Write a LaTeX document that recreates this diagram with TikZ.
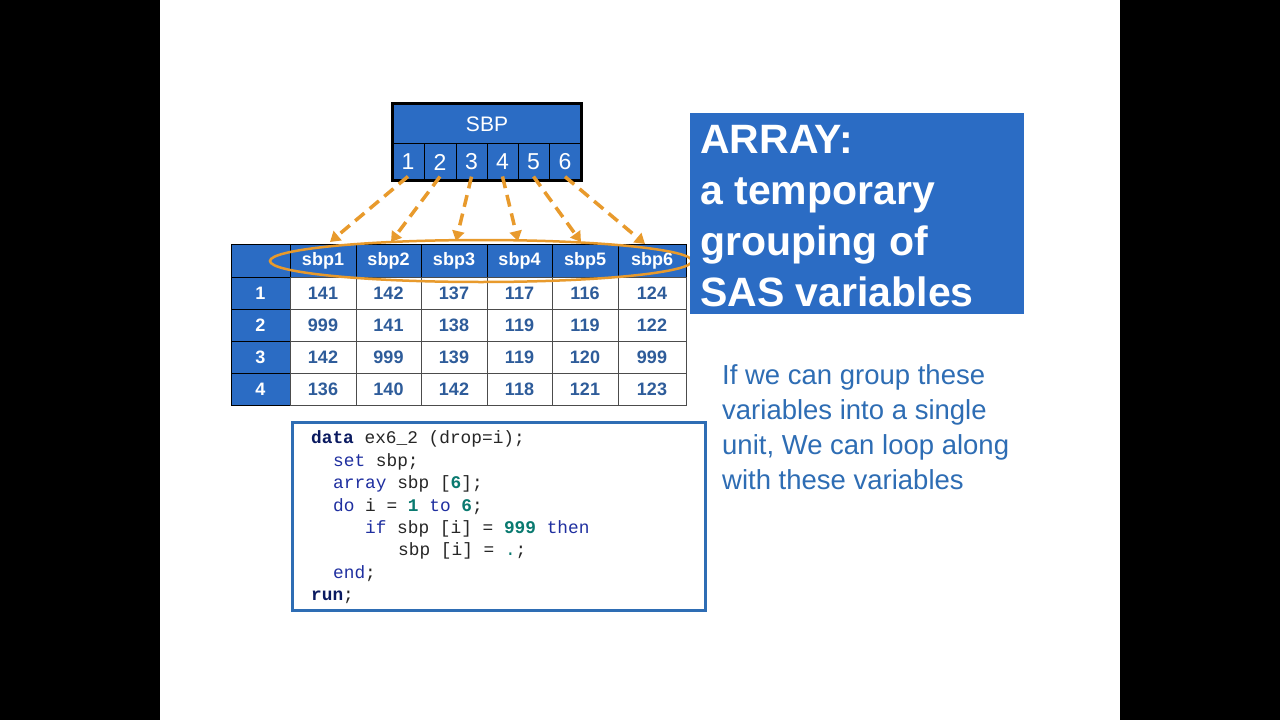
\documentclass[tikz,border=0pt]{standalone}
\usepackage{fontspec}
\setmainfont{Liberation Sans}
\newfontfamily\codefont{Liberation Mono}
\usetikzlibrary{arrows.meta}
\definecolor{slideblue}{HTML}{2B6CC4}
\definecolor{numblue}{HTML}{2E5C9A}
\definecolor{txtblue}{HTML}{2E6DB4}
\definecolor{orng}{HTML}{E89A2C}
\definecolor{kw}{HTML}{1F2FA0}
\definecolor{kwb}{HTML}{0A1A60}
\definecolor{numc}{HTML}{0A7A70}
\begin{document}
\begin{tikzpicture}[x=1pt,y=-1pt,
  hcell/.style={draw=black,fill=slideblue},
  dcell/.style={draw=black!70,fill=white},
  tfont/.style={font=\bfseries\fontsize{18}{18}\selectfont},
  arr/.style={orng,line width=3.5pt,dash pattern=on 12pt off 7pt,-{Triangle[length=10pt,width=12pt]}},
  bigt/.style={anchor=base west,text=white,font=\bfseries\fontsize{41}{50}\selectfont,inner sep=0pt},
  codeln/.style={anchor=base west,inner sep=0pt,font=\codefont\fontsize{17.8}{17.8}\selectfont,text=black!85}]
\useasboundingbox (0,0) rectangle (1280,720);
\fill[white] (0,0) rectangle (1280,720);
\fill[black] (0,0) rectangle (160,720);
\fill[black] (1120,0) rectangle (1280,720);
% SBP box
\fill[slideblue] (392,103) rectangle (581,180);
\node[text=white,font=\fontsize{21}{21}\selectfont] (sbp) at (487,124) {SBP};
\foreach \i/\xa/\xb in {1/392/424,2/424/456,3/456/487,4/487/518,5/518/549,6/549/581}{
  \draw[black,line width=1pt] (\xa,143) rectangle (\xb,180);
  \node[text=white,font=\fontsize{23}{23}\selectfont] (n\i) at ({(\xa+\xb)/2},162) {\i};
}
\draw[black,line width=3pt] (392,103) rectangle (581,180);
% table
\foreach \ya/\yb [count=\ri] in {244/277,277/309,309/341,341/373,373/405}{
  \foreach \xa/\xb [count=\ci] in {231/290,290/356,356/421,421/487,487/552,552/618,618/686}{
    \ifnum\ri=1 \def\st{hcell}\else\ifnum\ci=1 \def\st{hcell}\else\def\st{dcell}\fi\fi
    \draw[\st] (\xa,\ya) rectangle (\xb,\yb);
    \coordinate (c\ri\ci) at ({(\xa+\xb)/2},{(\ya+\yb)/2});
  }
}
\foreach \j/\s in {2/sbp1,3/sbp2,4/sbp3,5/sbp4,6/sbp5,7/sbp6}{\node[text=white,tfont] at (c1\j) {\s};}
\foreach \i [count=\k from 2] in {1,2,3,4}{\node[text=white,tfont] at (c\k1) {\i};}
\foreach \row [count=\k from 2] in {{141,142,137,117,116,124},{999,141,138,119,119,122},{142,999,139,119,120,999},{136,140,142,118,121,123}}{
  \foreach \v [count=\j from 2] in \row {\node[text=numblue,tfont] at (c\k\j) {\v};}
}
% ellipse
\draw[orng,line width=2.5pt] (481,261) ellipse [x radius=211,y radius=21];
% arrows
\coordinate (t1) at (330,242);\coordinate (t2) at (391,242);\coordinate (t3) at (456,241);
\coordinate (t4) at (518,241);\coordinate (t5) at (581,242);\coordinate (t6) at (645,244);
\foreach \i in {1,...,6}{\draw[arr] ([yshift=-3pt]n\i.south) -- (t\i);}
% ARRAY box
\fill[slideblue] (690,113) rectangle (1024,314);
\node[bigt] (at) at (700,153) {ARRAY:};
\node[bigt] at (700,204) {a temporary};
\node[bigt] at (700,255) {grouping of};
\node[bigt] at (700,306) {SAS variables};
% side text
\node[anchor=north west,text=txtblue,align=left,font=\fontsize{27.5}{35}\selectfont,inner sep=0pt] (st) at (722,364) {If we can group these\\variables into a single\\unit, We can loop along\\with these variables};
% code box
\draw[txtblue,line width=3pt] (292,422) rectangle (705,610);
\node[codeln] at (311,443) {\textcolor{kwb}{\textbf{data}} ex6\_2 (drop=i);};
\node[codeln] at (333,466) {\textcolor{kw}{set} sbp;};
\node[codeln] at (333,488) {\textcolor{kw}{array} sbp [\textcolor{numc}{\textbf{6}}];};
\node[codeln] at (333,511) {\textcolor{kw}{do} i = \textcolor{numc}{\textbf{1}} \textcolor{kw}{to} \textcolor{numc}{\textbf{6}};};
\node[codeln] at (365,533) {\textcolor{kw}{if} sbp [i] = \textcolor{numc}{\textbf{999}} \textcolor{kw}{then}};
\node[codeln] at (398,555) {sbp [i] = \textcolor{numc}{.};};
\node[codeln] at (333,578) {\textcolor{kw}{end};};
\node[codeln] at (311,600) {\textcolor{kwb}{\textbf{run}};};
\end{tikzpicture}
\end{document}
